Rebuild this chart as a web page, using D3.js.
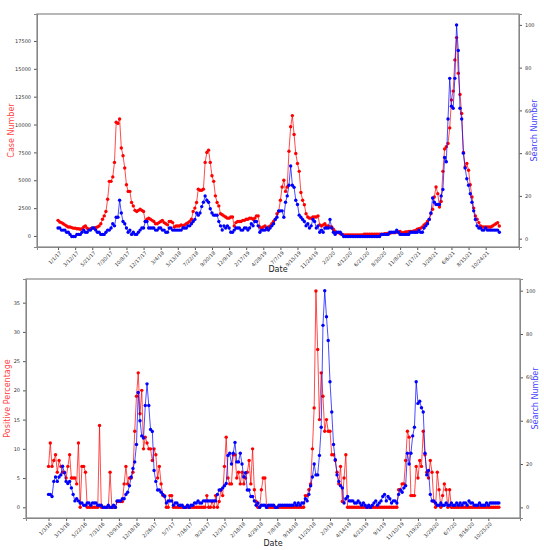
<!DOCTYPE html>
<html>
<head>
<meta charset="utf-8">
<script src="https://cdn.jsdelivr.net/npm/d3@7"></script>
<style>
  body { margin: 0; background: #fff; }
  text { font-family: "DejaVu Sans", sans-serif; }
</style>
</head>
<body>
<div id="chart"></div>
<script>
// weekly case numbers (top), one value per week starting 1/1/17
var caseNumber = [
  1400,1250,1200,1100,1000,900,800,800,750,700,
  700,650,650,600,650,800,900,700,600,650,
  700,700,750,800,900,1100,1500,1800,2200,3300,
  4900,4900,5300,6600,10200,10100,10500,7900,7200,6100,
  4600,4000,4000,3000,2700,2300,2200,2300,2400,2300,
  2200,1300,1500,1600,1500,1400,1300,1100,1100,1200,
  1300,1400,1200,1100,1000,1300,1300,1200,800,900,
  900,900,1000,900,1000,1100,1200,1300,1500,2200,
  2500,3000,4200,4100,4100,4200,6600,7500,7700,6600,
  5400,4900,3600,3000,2700,2000,1900,1800,1700,1600,
  1600,1700,1700,900,1200,1300,1300,1300,1400,1400,
  1500,1500,1600,1600,1500,1600,1800,1800,800,700,
  800,900,600,800,900,1100,1300,1500,2000,2200,
  3200,4400,5000,4000,4400,7600,9800,10800,9100,7400,
  6500,5800,3900,3200,2800,2000,1700,1600,1600,1700,
  1700,1700,1800,1000,900,1000,1100,900,900,800,
  800,600,400,300,300,200,150,100,100,100,
  100,100,100,100,100,100,100,100,100,150,
  150,150,150,150,150,150,150,150,150,150,
  150,200,200,250,250,300,300,300,350,350,
  400,300,300,350,350,400,400,400,450,500,
  600,650,700,800,1000,1100,1300,1500,2000,2400,
  3500,4400,3800,2600,3100,5800,7800,8000,8300,9700,
  12200,13000,15800,17800,14600,12700,11000,7500,6200,6500,
  5900,4600,3500,2500,1800,1500,1200,900,800,800,
  800,800,800,800,900,1000,1100,1200,900
];
var searchTop = [
  5,5,4,4,4,3,3,2,1,1,
  1,2,2,2,3,4,3,3,4,4,
  5,5,4,3,3,2,2,2,3,4,
  4,5,7,6,10,10,18,12,8,7,
  5,3,4,2,3,2,2,3,4,5,
  5,8,8,5,5,5,5,4,4,5,
  5,4,4,3,3,5,5,4,4,4,
  4,4,4,5,5,5,6,6,7,8,
  9,12,11,12,15,17,20,18,17,14,
  12,11,11,11,8,6,4,6,5,6,
  5,3,3,4,5,5,5,4,4,5,
  5,4,5,7,6,8,8,6,3,4,
  4,4,5,4,5,6,7,9,10,13,
  13,13,10,17,20,25,34,25,24,18,
  16,11,10,9,8,6,7,5,6,9,
  8,5,6,3,4,3,5,5,5,9,
  5,3,2,3,3,3,2,1,1,1,
  1,1,1,1,1,1,1,1,1,1,
  1,1,1,1,1,1,1,1,1,2,
  2,2,2,2,3,3,3,3,4,3,
  2,2,2,2,2,2,3,3,3,3,
  3,4,3,3,5,6,7,9,12,19,
  17,16,16,16,20,23,38,36,56,75,
  62,61,75,100,88,61,56,40,33,28,
  25,21,17,13,9,6,5,5,4,4,
  5,4,4,4,4,4,4,4,3
];
var topTickLabels = ["1/1/17","3/12/17","5/21/17","7/30/17","10/8/17","12/17/17","3/4/18","5/13/18",
  "7/22/18","9/30/18","12/9/18","2/17/19","4/28/19","7/7/19","9/15/19","11/24/19","2/2/20","4/12/20",
  "6/21/20","8/30/20","11/8/20","1/17/21","3/28/21","6/6/21","8/15/21","10/24/21"];

// weekly positive percentage (bottom), starting 1/3/16
var positivePct = [
  7,11,7,8,9,6,8,7,6,6,
  5,7,9,5,5,5,4,11,0,7,
  7,6,0,0,0,0,0,0,0,14,
  0,0,0,0,0,6,0,0,0,1,
  1,1,1,4,7,4,5,5,6,13,
  19,23,16,20,10,12,11,10,10,8,
  10,9,5,7,4,2,2,0,0,2,
  2,0,0,0,0,0,0,0,0,0,
  0,0,0,0,0,0,0,0,0,0,
  2,0,0,1,0,2,0,1,3,2,
  7,12,5,4,4,9,9,5,6,4,
  6,4,5,6,8,4,10,3,1,0,
  0,3,5,5,0,0,0,0,0,0,
  0,0,0,0,0,0,0,0,0,0,
  0,0,0,0,0,0,2,2,3,4,
  10,17,37,27,15,23,19,13,15,13,
  13,9,9,8,6,4,7,1,5,9,
  0,0,0,0,0,0,0,0,0,0,
  0,0,0,0,0,0,0,0,0,0,
  0,0,0,0,0,0,0,0,0,3,
  3,4,4,8,13,12,2,2,2,7,
  5,8,7,13,9,6,5,8,6,1,
  0,6,3,0,2,4,3,0,3,0,
  0,0,0,0,0,0,0,0,0,0,
  0,0,0,0,0,0,0,0,0,0,
  0,0,0,0,0,0,0
];
var searchBottom = [
  6,6,5,12,14,12,14,15,19,16,
  12,11,12,9,6,3,4,3,2,2,
  1,1,2,2,1,2,2,2,1,1,
  1,0,0,0,1,0,0,1,0,3,
  3,3,4,4,6,7,10,14,18,21,
  29,53,40,33,32,47,57,47,36,35,
  17,12,8,8,7,6,5,2,3,3,
  3,1,2,2,1,1,1,0,0,1,
  0,1,1,2,2,3,2,2,3,3,
  3,3,3,3,3,3,6,8,8,9,
  10,11,24,25,20,25,30,21,21,25,
  20,14,16,8,8,5,5,3,1,2,
  0,1,1,1,0,1,1,1,1,0,
  0,1,1,1,1,1,1,1,1,1,
  2,1,2,1,2,2,4,3,6,10,
  14,20,15,15,24,37,84,100,88,77,
  58,44,29,22,15,12,10,9,2,4,
  5,3,3,3,2,2,3,2,1,2,
  1,0,1,0,1,2,3,1,2,3,
  5,6,3,5,4,2,3,3,2,6,
  8,7,9,10,25,20,25,33,37,58,
  48,49,46,44,25,15,17,6,3,3,
  2,1,1,2,1,1,2,1,1,2,
  1,1,2,1,2,1,2,2,1,3,
  2,2,1,1,1,2,1,1,1,2,
  1,2,2,2,2,2,2
];
var bottomTickLabels = ["1/3/16","3/13/16","5/22/16","7/31/16","10/9/16","12/18/16","2/26/17","5/7/17",
  "7/16/17","9/24/17","12/3/17","2/18/18","4/29/18","7/8/18","9/16/18","11/25/18","2/3/19","4/14/19",
  "6/23/19","9/1/19","11/10/19","1/19/20","3/29/20","6/7/20","8/16/20","10/25/20"];

var width = 544, height = 550;
var svg = d3.select('#chart').append('svg')
  .attr('width', width).attr('height', height);

function panel(cfg) {
  var x = d3.scaleLinear().domain(cfg.xDomain).range([cfg.left, cfg.right]);
  var yL = d3.scaleLinear().domain(cfg.yLDomain).range([cfg.bottom, cfg.top]);
  var yR = d3.scaleLinear().domain(cfg.yRDomain).range([cfg.bottom, cfg.top]);
  var g = svg.append('g');

  var xAxis = d3.axisBottom(x)
    .tickValues(cfg.labels.map(function(d, i) { return i * 10; }))
    .tickFormat(function(d, i) { return cfg.labels[i]; })
    .tickSize(3);
  var gx = g.append('g').attr('transform', 'translate(0,' + cfg.bottom + ')').call(xAxis);
  gx.selectAll('text')
    .style('font-size', '5px').attr('fill', '#333')
    .attr('text-anchor', 'end')
    .attr('transform', 'translate(-2,1) rotate(-45)')
    .attr('dy', '0.5em').attr('y', 5);

  var gl = g.append('g').attr('transform', 'translate(' + cfg.left + ',0)')
    .call(d3.axisLeft(yL).tickValues(cfg.yLTicks).tickFormat(d3.format('d')).tickSize(3));
  gl.selectAll('text').style('font-size', '5px').attr('fill', '#333');
  var gr = g.append('g').attr('transform', 'translate(' + cfg.right + ',0)')
    .call(d3.axisRight(yR).tickValues([0, 20, 40, 60, 80, 100]).tickSize(3));
  gr.selectAll('text').style('font-size', '5px').attr('fill', '#333');
  g.selectAll('.domain').attr('stroke', '#888');
  g.selectAll('.tick line').attr('stroke', '#555');

  g.append('rect')
    .attr('x', cfg.left).attr('y', cfg.top)
    .attr('width', cfg.right - cfg.left).attr('height', cfg.bottom - cfg.top)
    .attr('fill', 'none').attr('stroke', '#888').attr('stroke-width', 1.2);

  function series(vals, y, color) {
    var line = d3.line().x(function(d, i) { return x(i); }).y(function(d) { return y(d); });
    g.append('path').datum(vals).attr('d', line)
      .attr('fill', 'none').attr('stroke', color).attr('stroke-opacity', 0.7).attr('stroke-width', 1);
    g.selectAll(null).data(vals).enter().append('circle')
      .attr('cx', function(d, i) { return x(i); })
      .attr('cy', function(d) { return y(d); })
      .attr('r', 1.7).attr('fill', color);
  }
  series(cfg.leftVals, yL, 'red');
  series(cfg.rightVals, yR, 'blue');

  g.append('text').attr('x', (cfg.left + cfg.right) / 2).attr('y', cfg.dateY)
    .attr('text-anchor', 'middle').style('font-size', '8px').attr('fill', '#222').text('Date');
  g.append('text')
    .attr('transform', 'translate(' + cfg.leftLabelX + ',' + (cfg.top + cfg.bottom) / 2 + ') rotate(-90)')
    .attr('text-anchor', 'middle').style('font-size', '8px').attr('fill', '#f44').text(cfg.leftLabel);
  g.append('text')
    .attr('transform', 'translate(' + cfg.rightLabelX + ',' + (cfg.top + cfg.bottom) / 2 + ') rotate(-90)')
    .attr('text-anchor', 'middle').style('font-size', '8px').attr('fill', '#44f').text('Search Number');
}

panel({
  left: 37, right: 519, top: 14, bottom: 247,
  xDomain: [-12.3, 269.5],
  yLDomain: [-990, 19920], yLTicks: [0, 2500, 5000, 7500, 10000, 12500, 15000, 17500],
  yRDomain: [-3.9, 105.1],
  labels: topTickLabels, leftVals: caseNumber, rightVals: searchTop,
  leftLabel: 'Case Number', leftLabelX: 14, rightLabelX: 537, dateY: 272
});

panel({
  left: 26, right: 520, top: 279, bottom: 518,
  xDomain: [-12.8, 268],
  yLDomain: [-1.83, 39.05], yLTicks: [0, 5, 10, 15, 20, 25, 30, 35],
  yRDomain: [-4.9, 105.4],
  labels: bottomTickLabels, leftVals: positivePct, rightVals: searchBottom,
  leftLabel: 'Positive Percentage', leftLabelX: 10, rightLabelX: 538, dateY: 546
});
</script>
</body>
</html>
